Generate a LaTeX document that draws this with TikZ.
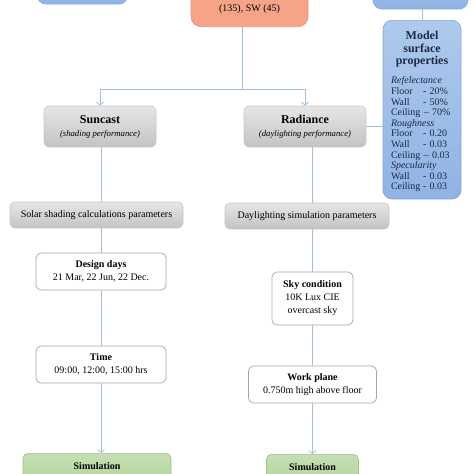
\documentclass[tikz,border=0pt]{standalone}
\usepackage{fontspec}
\setmainfont{Liberation Serif}
\usepackage{xcolor}
\usetikzlibrary{arrows.meta}

\definecolor{linecol}{HTML}{A3C0DB}
\definecolor{graytop}{HTML}{E6E6E6}
\definecolor{graybot}{HTML}{C3C3C3}
\definecolor{graybd}{HTML}{C6C6C6}
\definecolor{bluetop}{HTML}{AECAEE}
\definecolor{bluebot}{HTML}{8FB3E3}
\definecolor{bluebd}{HTML}{86A8D8}
\definecolor{orangefill}{HTML}{F5A487}
\definecolor{orangebd}{HTML}{E8967A}
\definecolor{greentop}{HTML}{C5DFB3}
\definecolor{greenbot}{HTML}{A9CE91}
\definecolor{greenbd}{HTML}{9FC487}
\definecolor{navytext}{HTML}{1E2A45}

\begin{document}
\begin{tikzpicture}[x=1pt,y=-1pt,
	conn/.style={draw=linecol, line width=0.8pt},
	arr/.style={conn, -{Straight Barb[length=3pt,width=7pt]}},
	box/.style={rounded corners=5pt, inner sep=0pt, align=center, line width=0.7pt,
		font=\fontsize{10}{13}\selectfont},
	graybox/.style={box, draw=graybd, top color=graytop, bottom color=graybot},
	whitebox/.style={box, draw=black!35, fill=white},
	bluebox/.style={box, rounded corners=9pt, draw=bluebd, top color=bluetop, bottom color=bluebot},
	orangebox/.style={box, rounded corners=10pt, draw=orangebd, fill=orangefill},
	greenbox/.style={box, draw=greenbd, top color=greentop, bottom color=greenbot}]
	\useasboundingbox (0,0) rectangle (474,474);
	\clip (0,0) rectangle (474,474);
	
	% boxes cut off at the top
	\node[bluebox, minimum width=91pt, minimum height=44pt] (inp) at (82.5,-18) {};
	\node[orangebox, minimum width=117pt, anchor=south, text height=50pt, text depth=12pt,
		inner ysep=3.5pt] (orient) at (249.5,27) {(135), SW (45)};
	\node[bluebox, minimum width=95pt, minimum height=49pt] (mdl) at (420.5,-15.5) {};
	
	\node[bluebox, anchor=north, minimum width=78pt, text width=62pt, inner xsep=8pt,
		inner ysep=7pt, align=left, text=navytext, font=\fontsize{10}{10.6}\selectfont] (surf) at (422,20) {%
		{\centering\fontsize{12}{12.8}\selectfont\bfseries \rule{0pt}{12pt}Model\\surface\\properties\par}
		\vspace{8.3pt}
		\textit{Refelectance}\\
		\makebox[32pt][l]{Floor}- 20\%\\
		\makebox[32pt][l]{Wall}- 50\%\\
		Ceiling -- 70\%\\
		\textit{Roughness}\\
		\makebox[32pt][l]{Floor}- 0.20\\
		\makebox[32pt][l]{Wall}- 0.03\\
		Ceiling -- 0.03\\
		\textit{Specularity}\\
		\makebox[32pt][l]{Wall}- 0.03\\
		\makebox[32pt][l]{Ceiling}- 0.03};
	
	% the two tools
	\node[graybox, minimum width=112pt, minimum height=41pt] (sun) at (100,126.5)
		{{\fontsize{12}{13}\selectfont\bfseries Suncast}\\{\fontsize{8.7}{13}\selectfont\itshape (shading performance)}};
	\node[graybox, minimum width=122pt, minimum height=41pt] (rad) at (305,126.5)
		{{\fontsize{12}{13}\selectfont\bfseries Radiance}\\{\fontsize{8.7}{13}\selectfont\itshape (daylighting performance)}};
	
	\node[graybox, minimum width=173pt, minimum height=26pt] (sol) at (96.5,215) {Solar shading calculations parameters};
	\node[graybox, minimum width=164pt, minimum height=26pt] (dsp) at (307,216) {Daylighting simulation parameters};
	
	% left column
	\node[whitebox, minimum width=130pt, minimum height=37pt] (dd) at (101,271.5)
		{\textbf{Design days}\\21 Mar, 22 Jun, 22 Dec.};
	\node[whitebox, minimum width=130pt, minimum height=37pt] (tim) at (101,364.5)
		{\textbf{Time}\\09:00, 12:00, 15:00 hrs};
	\node[greenbox, anchor=north, minimum width=148pt, text height=12pt, text depth=30pt,
		inner ysep=4pt] (simA) at (97,453) {\textbf{Simulation}};
	
	% right column
	\node[whitebox, minimum width=81pt, minimum height=53pt] (sky) at (312.5,298.5)
		{\textbf{Sky condition}\\10K Lux CIE\\overcast sky};
	\node[whitebox, minimum width=128pt, minimum height=37pt] (wp) at (312.5,384.5)
		{\textbf{Work plane}\\0.750m high above floor};
	\node[greenbox, anchor=north, minimum width=92pt, text height=12pt, text depth=30pt,
		inner ysep=4pt] (simB) at (312.5,454) {\textbf{Simulation}};
	
	% connectors
	\coordinate (fork) at (242,89);
	\draw[conn] (orient.south -| fork) -- (fork);
	\draw[arr] (fork) -| (sun.north);
	\draw[arr] (fork) -| (rad.north);
	\draw[conn] (mdl.south -| surf.north) -- (surf.north);
	\draw[conn] (rad.east) -- (rad.east -| surf.west);
	
	\draw[conn] (dd.north |- sun.south) -- (dd.north |- sol.north);
	\draw[conn] (dd.north |- sol.south) -- (dd.north);
	\draw[conn] (dd.south) -- (tim.north);
	\draw[arr] (tim.south) -- (tim.south |- simA.north);
	
	\draw[conn] (sky.north |- rad.south) -- (sky.north |- dsp.north);
	\draw[conn] (sky.north |- dsp.south) -- (sky.north);
	\draw[conn] (sky.south) -- (wp.north);
	\draw[arr] (wp.south) -- (wp.south |- simB.north);
\end{tikzpicture}
\end{document}
